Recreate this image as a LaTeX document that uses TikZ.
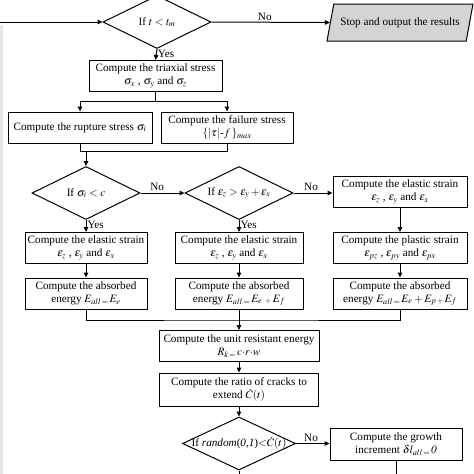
\documentclass[tikz,border=0pt]{standalone}
\usepackage{mathptmx}
\usepackage[no-math]{fontspec}
\setmainfont{Liberation Serif}
\usetikzlibrary{shapes.geometric,arrows.meta}
\begin{document}
\begin{tikzpicture}[x=1pt, y=-1pt,
    font=\fontsize{11.2}{13}\selectfont,
    line width=1pt, >={Triangle[length=5pt,width=4.5pt]},
    box/.style={draw, align=center, inner xsep=2pt, inner ysep=3pt, minimum height=31pt},
    decision/.style={diamond, draw, inner sep=0pt, minimum width=108pt, minimum height=53pt},
    yeslabel/.style={right, inner sep=1pt, pos=0.4},
    nolabel/.style={above, inner sep=1.5pt, pos=0.45}]
            \definecolor{clfill}{HTML}{D4D4D4}
            \definecolor{clside}{HTML}{E6E6E6}
            \useasboundingbox (0,0) rectangle (474,474);
            \draw[draw=clside, line width=3pt] (1.5,25) -- (1.5,474);
            \node[decision] (d1) at (157,22) {\makebox[0pt]{If $t < t_m$}};
            \node[trapezium, draw, fill=clfill, trapezium left angle=68, trapezium right angle=112,
                  trapezium stretches body, minimum width=146pt, minimum height=37pt, inner xsep=0pt]
                  (stop) at (400,22.5) {Stop and output the results};
            \node[box, minimum width=133pt] (tri) at (155.5,76) {Compute the triaxial stress\\$\sigma_x$ , $\sigma_y$ and $\sigma_z$};
            \node[box, minimum width=144pt] (rup) at (80,127.5) {Compute the rupture stress $\sigma_i$};
            \node[box, minimum width=132pt] (fail) at (227,127.5) {Compute the failure stress\\$\{|\tau|$-$f\,\}_{max}$};
            \node[decision] (d2) at (86,193) {\makebox[0pt]{If $\sigma_i < c$}};
            \node[decision] (d3) at (239,193) {\makebox[0pt]{If $\varepsilon_z > \varepsilon_y + \varepsilon_x$}};
            \node[box, minimum width=134pt] (el3) at (400,192) {Compute the elastic strain\\$\varepsilon_z$ , $\varepsilon_y$ and $\varepsilon_x$};
            \node[box, minimum width=122pt] (el1) at (86,248) {Compute the elastic strain\\$\varepsilon_z$ , $\varepsilon_y$ and $\varepsilon_x$};
            \node[box, minimum width=128pt] (el2) at (239,248) {Compute the elastic strain\\$\varepsilon_z$ , $\varepsilon_y$ and $\varepsilon_x$};
            \node[box, minimum width=134pt] (pl) at (400,248) {Compute the plastic strain\\$\varepsilon_{pz}$ , $\varepsilon_{py}$ and $\varepsilon_{px}$};
            \node[box, minimum width=122pt] (ab1) at (86,293.5) {Compute the absorbed\\energy $E_{all\,=\,}E_e$};
            \node[box, minimum width=128pt] (ab2) at (239,293.5) {Compute the absorbed\\energy $E_{all\,=\,}E_e\;{}_+\,E_f$};
            \node[box, minimum width=134pt] (ab3) at (400,293.5) {Compute the absorbed\\energy $E_{all\,=\,}E_e + E_{p\,+\,}E_f$};
            \node[box, minimum width=160pt] (unit) at (239,346) {Compute the unit resistant energy\\$R_{k\,=\,}c{\cdot}r{\cdot}w$};
            \node[box, minimum width=159pt, minimum height=33pt] (ratio) at (239,389.5) {Compute the ratio of cracks to\\extend $\dot{C}(t)$};
            \node[decision, minimum width=113pt] (d4) at (239,443.5) {\makebox[0pt]{If \textit{random}(\textit{0,1})${<}\dot{C}(t)$}};
            \node[box, minimum width=132pt, minimum height=32pt] (grow) at (396,444) {Compute the growth\\increment $\delta l_{all\,=\,}\mathit{0}$};
            \coordinate (loopin) at (0,22);
            \coordinate (split) at (tri.south |- 0,101);
            \coordinate (join1) at (86,151);
            \coordinate (join2) at (239,320);
            \coordinate (outd) at (239,474);
            \coordinate (outg) at (396,474);
            \draw[->] (loopin) -- (d1.west);
            \draw[->] (d1.east) -- node[nolabel] {No} (stop.left side);
            \draw[->] (d1.south) -- node[yeslabel] {Yes} (tri.north);
            \draw (tri.south) -- (split);
            \draw[->] (split) -| (rup.north);
            \draw[->] (split) -| (fail.north);
            \draw (rup.south) |- (join1);
            \draw (fail.south) |- (join1);
            \draw[->] (join1) -- (d2.north);
            \draw[->] (d2.east) -- node[nolabel, pos=0.38] {No} (d3.west);
            \draw[->] (d3.east) -- node[nolabel] {No} (d3.east -| el3.west);
            \draw[->] (d2.south) -- node[yeslabel] {Yes} (el1.north);
            \draw[->] (d3.south) -- node[yeslabel] {Yes} (el2.north);
            \draw[->] (el3.south) -- (pl.north);
            \draw[->] (el1.south) -- (ab1.north);
            \draw[->] (el2.south) -- (ab2.north);
            \draw[->] (pl.south) -- (ab3.north);
            \draw (ab1.south) |- (join2) -| (ab3.south);
            \draw[->] (ab2.south) -- (unit.north);
            \draw[->] (unit.south) -- (ratio.north);
            \draw[->] (ratio.south) -- (d4.north);
            \draw[->] (d4.east) -- node[nolabel] {No} (d4.east -| grow.west);
            \draw (d4.south) -- (outd);
            \draw (grow.south) -- (outg);
        \end{tikzpicture}
\end{document}
